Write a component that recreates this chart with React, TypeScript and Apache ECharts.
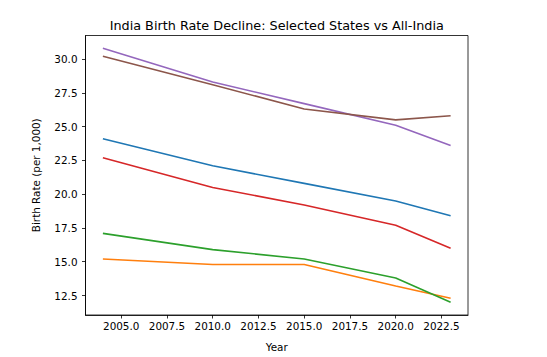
import React, { useEffect, useRef } from "react";
import * as echarts from "echarts";

const years = [2004, 2010, 2015, 2020, 2023];
const seriesBlue = [24.1, 22.1, 20.8, 19.5, 18.4];
const seriesOrange = [15.2, 14.8, 14.8, 13.2, 12.3];
const seriesGreen = [17.1, 15.9, 15.2, 13.8, 12.0];
const seriesRed = [22.7, 20.5, 19.2, 17.7, 16.0];
const seriesPurple = [30.8, 28.3, 26.7, 25.1, 23.6];
const seriesBrown = [30.2, 28.1, 26.3, 25.5, 25.8];
const seriesNames = ["All-India", "State A", "State B", "State C", "State D", "State E"];
const colors = ["#1f77b4", "#ff7f0e", "#2ca02c", "#d62728", "#9467bd", "#8c564b"];
const xTicks = [2005, 2007.5, 2010, 2012.5, 2015, 2017.5, 2020, 2022.5];
const yTicks = [12.5, 15.0, 17.5, 20.0, 22.5, 25.0, 27.5, 30.0];

const FONT = "DejaVu Sans";

export default function App() {
  const ref = useRef<HTMLDivElement>(null);
  useEffect(() => {
    if (!ref.current) return;
    const chart = echarts.init(ref.current, null, { renderer: "svg" });
    const all = [seriesBlue, seriesOrange, seriesGreen, seriesRed, seriesPurple, seriesBrown];
    const gridLeft = 85.5;
    const gridRight = 79;
    const gridTop = 35.5;
    const gridBottom = 35.5;
    const plotCenter = gridLeft + (547 - gridLeft - gridRight) / 2;
    chart.setOption({
      animation: false,
      backgroundColor: "#fff",
      graphic: [
        {
          type: "text",
          x: plotCenter,
          y: 25.9,
          style: {
            text: "India Birth Rate Decline: Selected States vs All-India",
            fontFamily: FONT,
            fontSize: 12.8,
            fill: "#000",
            align: "center",
            verticalAlign: "middle",
          },
        },
      ],
      grid: {
        left: gridLeft,
        right: gridRight,
        top: gridTop,
        bottom: gridBottom,
        show: true,
        borderColor: "#000",
        borderWidth: 0.8,
        backgroundColor: "transparent",
      },
      xAxis: {
        type: "value",
        min: 2003.05,
        max: 2023.95,
        name: "Year",
        nameLocation: "middle",
        nameGap: 27,
        nameTextStyle: { fontFamily: FONT, fontSize: 10.4, color: "#000" },
        splitLine: { show: false },
        axisLine: { show: true, lineStyle: { color: "#000", width: 0.8 } },
        axisTick: { show: true, inside: false, length: 3.5, lineStyle: { color: "#000", width: 0.8 }, customValues: xTicks },
        axisLabel: {
          customValues: xTicks,
          fontFamily: FONT,
          fontSize: 10.4,
          color: "#000",
          margin: 6,
          formatter: (v: number) => v.toFixed(1),
        },
      },
      yAxis: {
        type: "value",
        min: 11.06,
        max: 31.74,
        name: "Birth Rate (per 1,000)",
        nameLocation: "middle",
        nameGap: 45,
        nameTextStyle: { fontFamily: FONT, fontSize: 10.4, color: "#000" },
        splitLine: { show: false },
        axisLine: { show: true, lineStyle: { color: "#000", width: 0.8 } },
        axisTick: { show: true, inside: false, length: 3.5, lineStyle: { color: "#000", width: 0.8 }, customValues: yTicks },
        axisLabel: {
          customValues: yTicks,
          fontFamily: FONT,
          fontSize: 10.4,
          color: "#000",
          margin: 8,
          formatter: (v: number) => v.toFixed(1),
        },
      },
      series: all.map((vals, i) => ({
        type: "line",
        name: seriesNames[i],
        data: years.map((y, j) => [y, vals[j]]),
        showSymbol: false,
        symbol: "none",
        lineStyle: { color: colors[i], width: 1.6 },
        itemStyle: { color: colors[i] },
      })),
    });
    return () => chart.dispose();
  }, []);
  return <div ref={ref} style={{ width: 547, height: 357, position: "absolute", left: 0, top: 0 }} />;
}
